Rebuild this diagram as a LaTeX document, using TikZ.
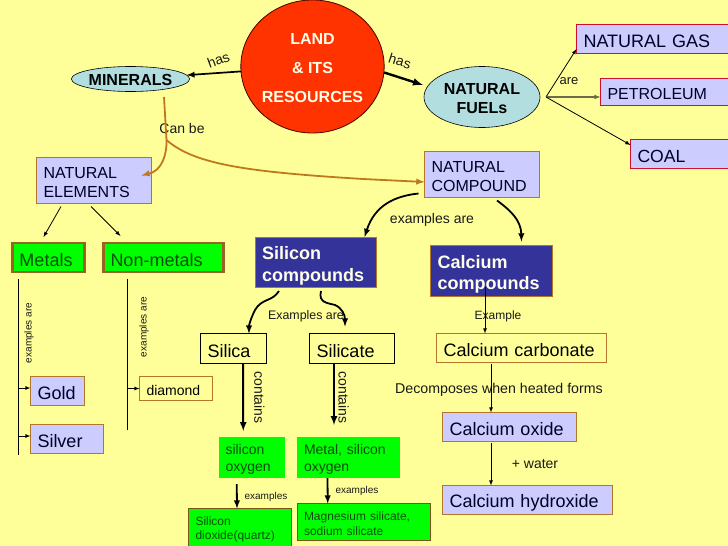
\documentclass[tikz,border=0pt]{standalone}
\usepackage{fontspec}
\setmainfont{Liberation Sans}
\usetikzlibrary{shapes.geometric}
\definecolor{paper}{HTML}{FFFF99}
\definecolor{sun}{HTML}{FF3300}
\definecolor{pale}{HTML}{B3DEE0}
\definecolor{lilac}{HTML}{CCCCFF}
\definecolor{ochre}{HTML}{B5752A}
\definecolor{crimson}{HTML}{CC1133}
\definecolor{leaf}{HTML}{00FF00}
\definecolor{leafdark}{HTML}{0B4D0B}
\definecolor{navy}{HTML}{333399}
\definecolor{rust}{HTML}{C0781E}
\newcommand{\fs}[2]{\fontsize{#1}{#2}\selectfont}
\begin{document}
\begin{tikzpicture}[>=latex,x=1pt,y=-1pt,
  boxsize/.style 2 args={anchor=north west,inner xsep=7pt,inner ysep=0pt,outer sep=0pt,align=left,text width=#1pt-14pt,minimum height=#2pt,execute at begin node=\rule{0pt}{1em}},
  lilacbox/.style={draw=ochre,fill=lilac,text=black!85!blue},
  redbox/.style={draw=crimson,line width=.9pt,fill=lilac,text=black!85!blue},
  plainbox/.style={draw=black,line width=.9pt},
  ochrebox/.style={draw=ochre,line width=.9pt},
  metalbox/.style={draw=ochre!85!black,line width=2.6pt,fill=leaf,text=leafdark},
  navybox/.style={draw=ochre,fill=navy,text=white!92!yellow,font=\bfseries\fs{18}{21.5},execute at begin node=\rule{0pt}{1.15em}},
  greenbox/.style={fill=leaf,text=leafdark},
  oval/.style={ellipse,draw=black,line width=.6pt,fill=pale,inner sep=0pt,outer sep=0pt,font=\bfseries\fs{16}{19},align=center},
  lbl/.style={inner sep=0pt,text=black!90},
  thin arrow/.style={->,line width=.8pt},
  heavy/.style={->,line width=2.4pt},
  rustline/.style={rust,line width=1.8pt}]
\path[use as bounding box,fill=paper] (0,0) rectangle (728,546);
\clip (0,0) rectangle (728,546);
\path
(312.5,66.5) node[ellipse,draw=black!70!red,line width=.8pt,fill=sun,minimum width=127pt,minimum height=133pt,inner sep=0pt,outer sep=0pt,text=white!92!yellow,align=center,font=\bfseries\fs{16}{29}] (land) {\rule{0pt}{14pt}LAND\\\& ITS\\RESOURCES}
(130.5,79)   node[oval,minimum width=115.5pt,minimum height=25pt] (minerals) {\rule{0pt}{14pt}MINERALS}
(482,97)     node[oval,minimum width=116pt,minimum height=61pt] (fuels) {\rule{0pt}{14pt}NATURAL\\FUELs}
% right column
(576.5,24.5) node[boxsize={170}{29},redbox,font=\fs{18}{20}] (gas) {NATURAL GAS}
(600.5,78.5) node[boxsize={140}{27},redbox,font=\fs{16}{18}] (petroleum) {PETROLEUM}
(630.5,139.5) node[boxsize={110}{29},redbox,font=\fs{17.6}{20}] (coal) {COAL}
(36.5,157.5) node[boxsize={115}{46},lilacbox,font=\fs{16}{19}] (elements) {NATURAL\\ELEMENTS}
(424.5,151.5) node[boxsize={115}{46},lilacbox,font=\fs{16}{19}] (compound) {NATURAL\\COMPOUND}
(12.5,243)   node[boxsize={72}{29},metalbox,font=\fs{18}{20}] (metals) {Metals}
(103.5,243)  node[boxsize={120}{29},metalbox,font=\fs{18}{20}] (nonmetals) {Non-metals}
(255,237)    node[boxsize={121}{50},navybox] (silicon) {Silicon\\compounds}
(430.5,245.5) node[boxsize={122}{50.5},navybox] (calcium) {Calcium\\compounds}
% second row
(200.5,333.5) node[boxsize={66}{30},plainbox,font=\fs{18}{20}] (silica) {Silica}
(309.5,333.5) node[boxsize={85}{30},plainbox,font=\fs{18}{20}] (silicate) {Silicate}
(436.5,333.5) node[boxsize={170}{29},ochrebox,font=\fs{18}{20}] (carbonate) {Calcium carbonate}
(30.5,376.5) node[boxsize={54}{29},lilacbox,font=\fs{18}{20}] (gold) {Gold}
(30.5,424.5) node[boxsize={73}{29},lilacbox,font=\fs{18}{20}] (silver) {Silver}
(139.5,376.5) node[boxsize={73}{24},ochrebox,font=\fs{14}{16}] (diamond) {diamond}
(218.5,437)  node[boxsize={66.5}{41},greenbox,font=\fs{14}{17}] (sioxy) {silicon\\oxygen}
(297,437)    node[boxsize={103}{41},greenbox,font=\fs{14}{17}] (metaloxy) {Metal, silicon\\oxygen}
(442.5,412.5) node[boxsize={134}{29},lilacbox,font=\fs{18}{20}] (oxide) {Calcium oxide}
(442.5,485.5) node[boxsize={170}{29},lilacbox,font=\fs{18}{20}] (hydroxide) {Calcium hydroxide}
(188.5,508.5) node[boxsize={103}{38},greenbox,draw=ochre!70!black,font=\fs{12}{14}] (quartz) {Silicon\\dioxide(quartz)}
(297,503.5)  node[boxsize={133.5}{37},greenbox,draw=ochre!70!black,font=\fs{12}{15}] (magnesium) {Magnesium silicate,\\sodium silicate};

% labels
\path
(218.5,60)  node[lbl,rotate=20,font=\fs{14}{16}] (hasl) {has}
(400,61)    node[lbl,rotate=-17,font=\fs{14}{16}] (hasr) {has}
(569,81.5)  node[lbl,font=\fs{13}{15}] (are) {are}
(182,128.5) node[lbl,font=\fs{14}{16}] (canbe) {Can be}
(432,220)   node[lbl,font=\fs{14}{16}] (exone) {examples are}
(29,333)    node[lbl,rotate=90,font=\fs{10}{12}] (extwo) {examples are}
(144,327)   node[lbl,rotate=90,font=\fs{10}{12}] (exthree) {examples are}
(306,316)   node[lbl,font=\fs{12.4}{14}] (exfour) {Examples are}
(498,316)   node[lbl,font=\fs{12}{14}] (example) {Example}
(259.5,397.5) node[lbl,rotate=-90,font=\fs{14}{16}] (conone) {contains}
(343.5,397.5) node[lbl,rotate=-90,font=\fs{14}{16}] (contwo) {contains}
(499,390)   node[lbl,font=\fs{14.2}{16}] (decomp) {Decomposes when heated forms}
(535,464)   node[lbl,font=\fs{14}{16}] (water) {+ water}
(266,496.5) node[lbl,font=\fs{10}{12}] (exsilica) {examples}
(357,490.5) node[lbl,font=\fs{10}{12}] (exmetal) {examples};

\coordinate (fork) at (546,97);
\coordinate (mintail) at (164,97);
\coordinate (branch) at (166.5,140);
\coordinate (metaltop) at (18.5,279);
\coordinate (metalend) at (18.5,455);
\coordinate (nontop) at (127,279);
\coordinate (nonend) at (127,430);

\draw[->,line width=1.7pt] (land) -- (minerals);
\draw[heavy] ([yshift=-6pt]land.east) -- ([xshift=-1pt,yshift=12pt]fuels.west);
\draw[->,line width=.8pt] (fork) -- (gas.south west |- 0,49);
\draw[->,line width=1.1pt,black!65!yellow] (fork) -- (petroleum.west |- fork);
\draw[->,line width=.8pt] (fork) -- (coal.north west |- 0,145);
\draw[rustline] (mintail) -- (branch) .. controls (167,152) and (163,172) .. (147,174);
\draw[rustline,->] (147,174) -- ([xshift=-10pt,yshift=5pt]elements.east);
\draw[rustline,->] (branch) .. controls (195,165) and (250,172) .. (363,179) -- ([yshift=-7.5pt]compound.west);
\draw[->,line width=.8pt] ([xshift=-33pt,yshift=-3pt]elements.south) -- ([xshift=-5pt,yshift=6pt]metals.north);
\draw[->,line width=.8pt] ([xshift=-3pt,yshift=-3pt]elements.south) -- ([xshift=-43pt,yshift=7pt]nonmetals.north);
\draw[->,line width=1.8pt] ([xshift=-6pt,yshift=4pt]compound.south west) .. controls (395,196) and (375,205) .. ([xshift=49pt]silicon.north);
\draw[->,line width=1.8pt] ([xshift=15pt,yshift=-3pt]compound.south) .. controls (510,210) and (521,220) .. ([xshift=30pt,yshift=4pt]calcium.north);
\draw[->,line width=1.8pt] ([xshift=-36.5pt,yshift=-4pt]silicon.south) .. controls (272,302) and (262,298) .. (255,310) .. controls (251,318) and (249,325) .. ([xshift=15.5pt]silica.north);
\draw[->,line width=1.8pt] ([xshift=5.5pt,yshift=-4pt]silicon.south) .. controls (318,303) and (328,303) .. (335,305) .. controls (342,308) and (345,315) .. ([xshift=-7pt,yshift=7pt]silicate.north);
\draw[line width=.9pt] (metaltop) -- (metalend);
\draw[line width=.9pt] (nontop) -- (nonend);
\draw[thin arrow] ([yshift=3pt]gold.west -| metaltop) -- ([yshift=3pt]gold.west);
\draw[thin arrow] ([yshift=3pt]silver.west -| metaltop) -- ([yshift=3pt]silver.west);
\draw[thin arrow] (diamond.west -| nontop) -- (diamond.west);
\draw[heavy,line width=2pt] ([xshift=9.5pt]silica.south) -- ([xshift=-8.5pt,yshift=6pt]sioxy.north);
\draw[heavy,line width=2pt] ([xshift=-18pt]silicate.south) -- ([xshift=-14.5pt,yshift=12pt]metaloxy.north);
\draw[heavy,line width=1.8pt] ([xshift=-15pt,yshift=-6pt]sioxy.south) -- ([xshift=-3pt]quartz.north);
\draw[heavy,line width=1.8pt] ([xshift=-21pt]metaloxy.south) -- ([xshift=-36pt]magnesium.north);
\draw[thin arrow] ([xshift=-6.5pt,yshift=9pt]calcium.south) -- ([xshift=-36.5pt]carbonate.north);
\draw[thin arrow] ([xshift=-30.5pt,yshift=-1pt]carbonate.south) -- ([xshift=-18.5pt]oxide.north);
\draw[thin arrow] ([xshift=-18.5pt,yshift=-1.5pt]oxide.south) -- ([xshift=-36.5pt]hydroxide.north);
\end{tikzpicture}
\end{document}
